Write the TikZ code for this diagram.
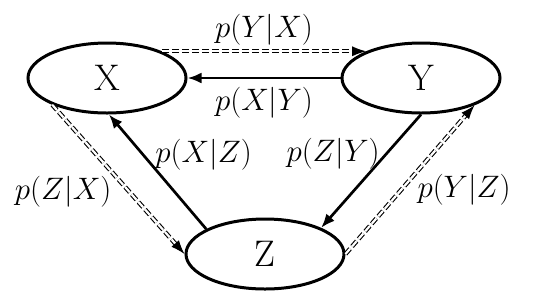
\RequirePackage{fix-cm}
\documentclass[tikz,border=0pt]{standalone}
\usetikzlibrary{arrows.meta,positioning,shapes.geometric}
\begin{document}
\begin{tikzpicture}[
  x=1pt,y=-1pt,
  state/.style={draw,ellipse,line width=3pt,minimum width=158pt,
                minimum height=70pt,font=\fontsize{37}{40}\selectfont},
  given/.style={inner sep=0pt,font=\fontsize{31}{36}\selectfont},
  solidarrow/.style={-{Latex[length=14pt,width=11pt]},line width=2.7pt},
  dasharrow/.style={-{Latex[length=14pt,width=10pt]},double,double distance=2.2pt,
                    line width=1.1pt,dash pattern=on 7pt off 3pt}
]
\useasboundingbox (0,0) rectangle (537,301);
\node[state] (X) at (107,78) {X};
\node[state] (Y) at (421,78) {Y};
\node[state] (Z) at (265,254) {Z};
% top pair
\draw[dasharrow] (X.26) -- node[given,above=5pt] {$p(Y|X)$} (Y.154);
\draw[solidarrow] (Y.west) -- node[given,below=8pt] {$p(X|Y)$} (X.east);
% left pair
\draw[solidarrow] (Z.157) -- node[given,pos=0.65,right=11pt] {$p(X|Z)$} (X.-87);
\draw[dasharrow] (X.206) -- node[given,pos=0.58,left=17pt] {$p(Z|X)$} (Z.west);
% right pair
\draw[solidarrow] (Y.south) -- node[given,pos=0.35,left=5pt] {$p(Z|Y)$} (Z.25);
\draw[dasharrow] (Z.east) -- node[given,pos=0.43,right=16pt] {$p(Y|Z)$} (Y.-27);
\end{tikzpicture}
\end{document}
